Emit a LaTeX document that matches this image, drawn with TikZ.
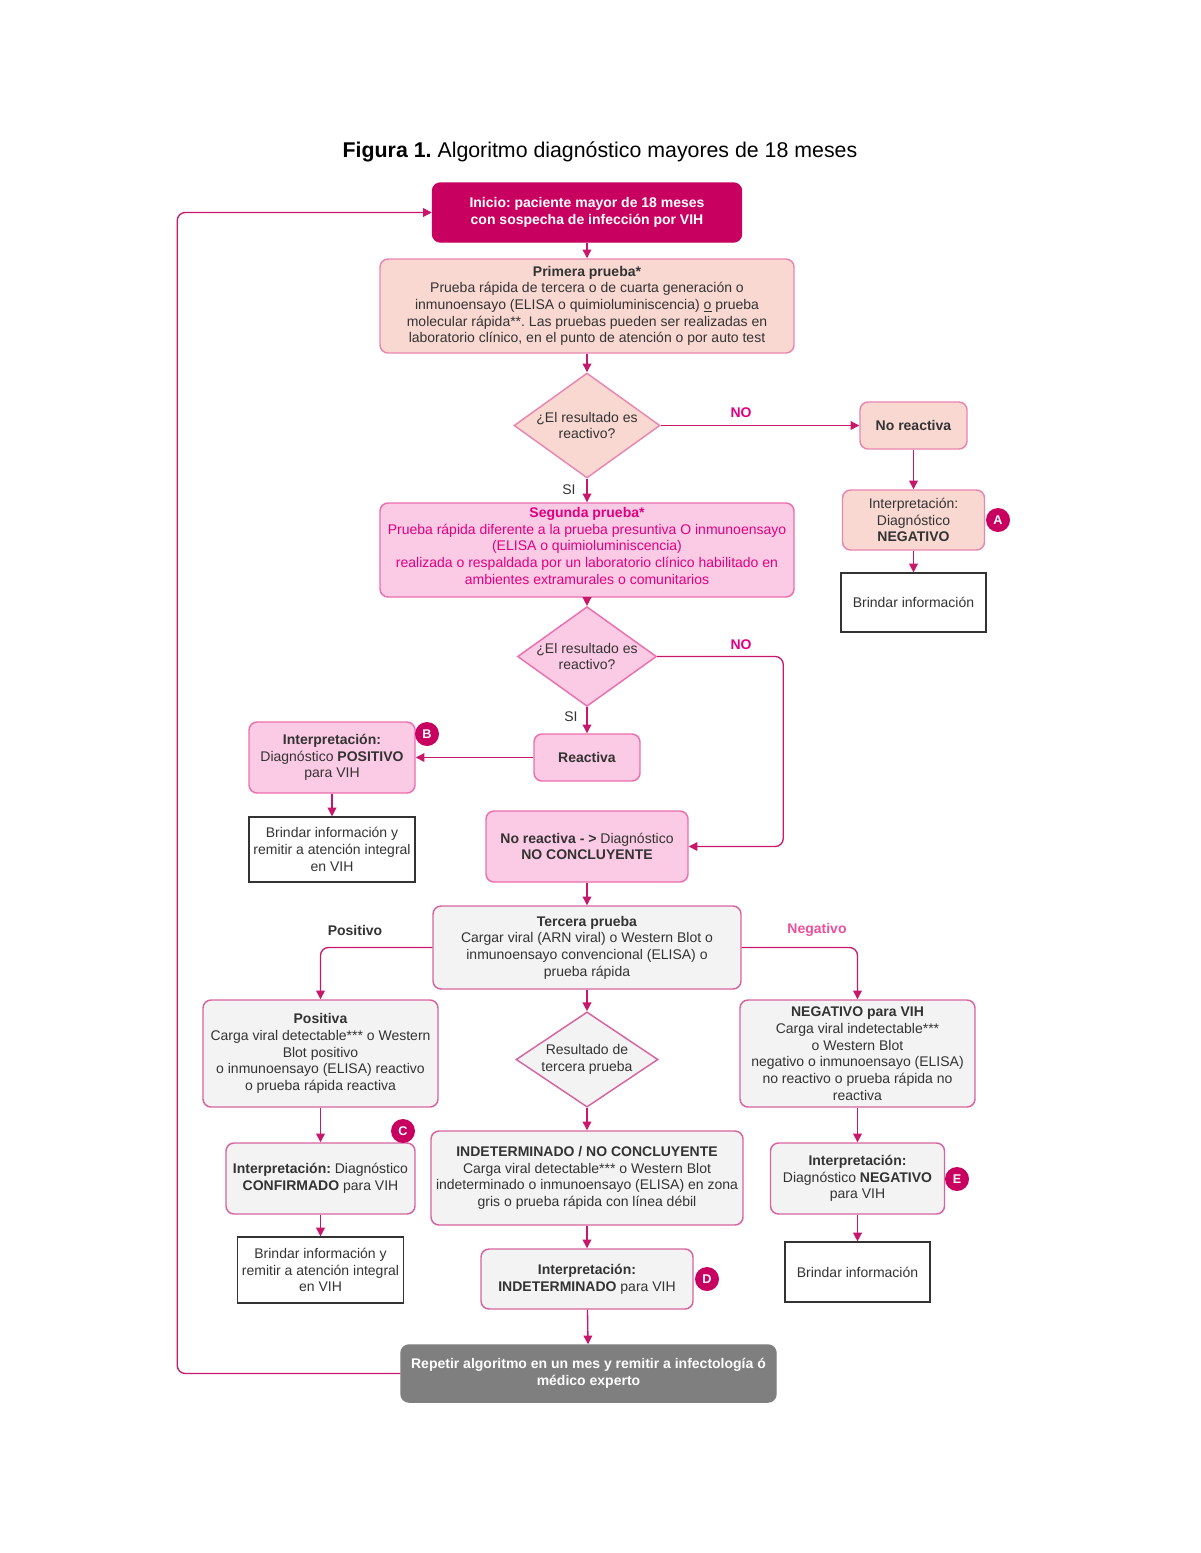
\documentclass[tikz,border=0pt]{standalone}
\usepackage{fontspec}
\setmainfont{Liberation Sans}
\usetikzlibrary{shapes.geometric,arrows.meta}
\definecolor{magD}{HTML}{C8005F}
\definecolor{arrC}{HTML}{C8186C}
\definecolor{peachF}{HTML}{F9D8D2}
\definecolor{peachD}{HTML}{E986B0}
\definecolor{pinkF}{HTML}{FBCAE4}
\definecolor{pinkD}{HTML}{EC6FAE}
\definecolor{pinkT}{HTML}{E0007F}
\definecolor{grayF}{HTML}{F3F3F3}
\definecolor{grayD}{HTML}{D8649F}
\definecolor{repF}{HTML}{7F7F7F}
\definecolor{txt}{HTML}{333333}
\definecolor{negL}{HTML}{EE4F9A}
\frenchspacing
\begin{document}
\frenchspacing
\begin{tikzpicture}[x=0.75pt,y=-0.75pt,
  fnt/.style={font=\fontsize{10.5}{12.5}\selectfont},
  box/.style={draw, rounded corners=6pt, line width=1.1pt, align=center, inner sep=1pt, fnt, text=txt},
  peach/.style={box, fill=peachF, draw=peachD},
  pinkb/.style={box, fill=pinkF, draw=pinkD},
  grayb/.style={box, fill=grayF, draw=grayD},
  plainb/.style={draw=black!80, line width=0.9pt, fill=white, align=center, inner sep=1pt, fnt, text=txt},
  dia/.style={diamond, shape aspect=1.39, inner sep=0pt, line width=1.1pt, align=center, fnt, text=txt},
  arr/.style={draw=arrC, line width=1pt, rounded corners=6pt, -{Triangle[length=6.5pt,width=6.5pt]}},
  badge/.style={circle, fill=magD, text=white, font=\bfseries\fontsize{9.5}{9.5}\selectfont, inner sep=0pt, minimum size=18pt},
  bfnt/.style={font=\bfseries\fontsize{10.5}{12.5}\selectfont},
  lbl/.style={fnt, text=txt}]
\useasboundingbox (0,0) rectangle (1200,1553);
\fill[white] (0,0) rectangle (1200,1553);

\node[font=\fontsize{16}{19}\selectfont, text=black] (title) at (600,152) {\textbf{Figura 1.} Algoritmo diagnóstico mayores de 18 meses};

\node[box, fill=magD, draw=magD, text=white, bfnt, minimum width=231.75pt, minimum height=44.25pt] (start) at (587,212.5) {Inicio: paciente mayor de 18 meses\\con sospecha de infección por VIH};

\node[peach, minimum width=310.5pt, minimum height=70.5pt] (prim) at (587,306) {\textbf{Primera prueba*}\\Prueba rápida de tercera o de cuarta generación o\\inmunoensayo (ELISA o quimioluminiscencia) \underline{o} prueba\\molecular rápida**. Las pruebas pueden ser realizadas en\\laboratorio clínico, en el punto de atención o por auto test};

\node[dia, fill=peachF, draw=peachD, minimum width=109.5pt, minimum height=78.75pt] (d1) at (587,425.5) {¿El resultado es\\reactivo?};

\node[peach, minimum width=80.25pt, minimum height=35.25pt] (nr1) at (913.5,425.5) {\textbf{No reactiva}};
\node[peach, minimum width=106.5pt, minimum height=45pt] (intA) at (913.5,520) {Interpretación:\\Diagnóstico\\\textbf{NEGATIVO}};
\node[badge] (bA) at (998,520) {A};
\node[plainb, minimum width=108.75pt, minimum height=44.25pt] (brA) at (913.5,602.5) {Brindar información};

\node[box, fill=pinkF, draw=pinkD, text=pinkT, minimum width=310.5pt, minimum height=70.5pt] (seg) at (587,550) {\textbf{Segunda prueba*}\\Prueba rápida diferente a la prueba presuntiva O inmunoensayo\\(ELISA o quimioluminiscencia)\\realizada o respaldada por un laboratorio clínico habilitado en\\ambientes extramurales o comunitarios\\[-6pt]\mbox{}};

\node[dia, fill=pinkF, draw=pinkD, minimum width=104.25pt, minimum height=71.25pt] (d2) at (587,656.5) {¿El resultado es\\reactivo?};

\node[pinkb, minimum width=79.5pt, minimum height=35.25pt] (reac) at (587,757.5) {\textbf{Reactiva}};
\node[pinkb, minimum width=124.5pt, minimum height=53.25pt] (intB) at (332,757.5) {\textbf{Interpretación:}\\Diagnóstico \textbf{POSITIVO}\\para VIH};
\node[badge] (bB) at (427,734) {B};
\node[plainb, minimum width=124.5pt, minimum height=48.75pt] (brB) at (332,849.5) {Brindar información y\\remitir a atención integral\\en VIH};

\node[pinkb, minimum width=151.5pt, minimum height=53.25pt] (nrNC) at (587,846.5) {\textbf{No reactiva - >} Diagnóstico\\\textbf{NO CONCLUYENTE}};

\node[grayb, minimum width=231pt, minimum height=62.25pt] (ter) at (587,947.5) {\textbf{Tercera prueba}\\Cargar viral (ARN viral) o Western Blot o\\inmunoensayo convencional (ELISA) o\\prueba rápida};

\node[dia, fill=grayF, draw=grayD, minimum width=106.5pt, minimum height=69.75pt] (d3) at (587,1059.5) {Resultado de\\tercera prueba};

\node[grayb, minimum width=176.25pt, minimum height=80.25pt] (pos) at (320.5,1053.5) {\textbf{Positiva}\\Carga viral detectable*** o Western\\Blot positivo\\o inmunoensayo (ELISA) reactivo\\o prueba rápida reactiva};
\node[grayb, minimum width=141.75pt, minimum height=53.25pt] (intC) at (320.5,1178.5) {\textbf{Interpretación:} Diagnóstico\\\textbf{CONFIRMADO} para VIH};
\node[badge] (bC) at (403,1131) {C};
\node[plainb, minimum width=124.5pt, minimum height=49.5pt] (brC) at (320.5,1270) {Brindar información y\\remitir a atención integral\\en VIH};

\node[grayb, minimum width=234pt, minimum height=70.5pt] (ind) at (587,1178) {\textbf{INDETERMINADO / NO CONCLUYENTE}\\Carga viral detectable*** o Western Blot\\indeterminado o inmunoensayo (ELISA) en zona\\gris o prueba rápida con línea débil};
\node[grayb, minimum width=159pt, minimum height=45pt] (intD) at (587,1279) {\textbf{Interpretación:}\\\textbf{INDETERMINADO} para VIH};
\node[badge] (bD) at (707,1279) {D};

\node[box, fill=repF, draw=repF, text=white, bfnt, minimum width=281.25pt, minimum height=42.75pt] (rep) at (588.5,1373.5) {Repetir algoritmo en un mes y remitir a infectología ó\\médico experto};

\node[grayb, minimum width=176.25pt, minimum height=80.25pt] (neg) at (857.5,1053.5) {\textbf{NEGATIVO para VIH}\\Carga viral indetectable***\\o Western Blot\\negativo o inmunoensayo (ELISA)\\no reactivo o prueba rápida no\\reactiva};
\node[grayb, minimum width=130.5pt, minimum height=53.25pt] (intE) at (857.5,1178.5) {\textbf{Interpretación:}\\Diagnóstico \textbf{NEGATIVO}\\para VIH};
\node[badge] (bE) at (957,1179) {E};
\node[plainb, minimum width=108.75pt, minimum height=45pt] (brE) at (857.5,1272) {Brindar información};

% labels
\node[text=pinkT, bfnt] (no1) at (741,413) {NO};
\node[text=pinkT, bfnt] (no2) at (741,645) {NO};
\node[lbl] (si1) at (569,490) {SI};
\node[lbl] (si2) at (571,717) {SI};
\node[text=txt, bfnt] (lpos) at (355,930) {Positivo};
\node[text=negL, bfnt] (lneg) at (817,930) {Negativo};

% connectors
\draw[arr] (start) -- (prim);
\draw[arr] (prim) -- (d1);
\draw[arr] (d1.east) -- (nr1.west);
\draw[arr] (nr1) -- (intA);
\draw[arr] (intA) -- (brA);
\draw[arr] (d1.south) -- (seg.north);
\draw[arr] (seg) -- (d2);
\draw[arr] (d2.east) -- ++(126,0) |- (nrNC.east);
\draw[arr] (d2.south) -- (reac.north);
\draw[arr] (reac.west) -- (intB.east);
\draw[arr] (intB) -- (brB);
\draw[arr] (nrNC) -- (ter);
\draw[arr] (ter.west) -| (pos.north);
\draw[arr] (ter.east) -| (neg.north);
\draw[arr] (ter.south) -- (d3.north);
\draw[arr] (d3.south) -- (ind.north);
\draw[arr] (pos) -- (intC);
\draw[arr] (intC) -- (brC);
\draw[arr] (ind) -- (intD);
\draw[arr] (intD) -- (rep);
\draw[arr] (neg) -- (intE);
\draw[arr] (intE) -- (brE);
\draw[arr] (rep.west) -- ++(-223,0) |- (start.west);
\end{tikzpicture}
\end{document}
